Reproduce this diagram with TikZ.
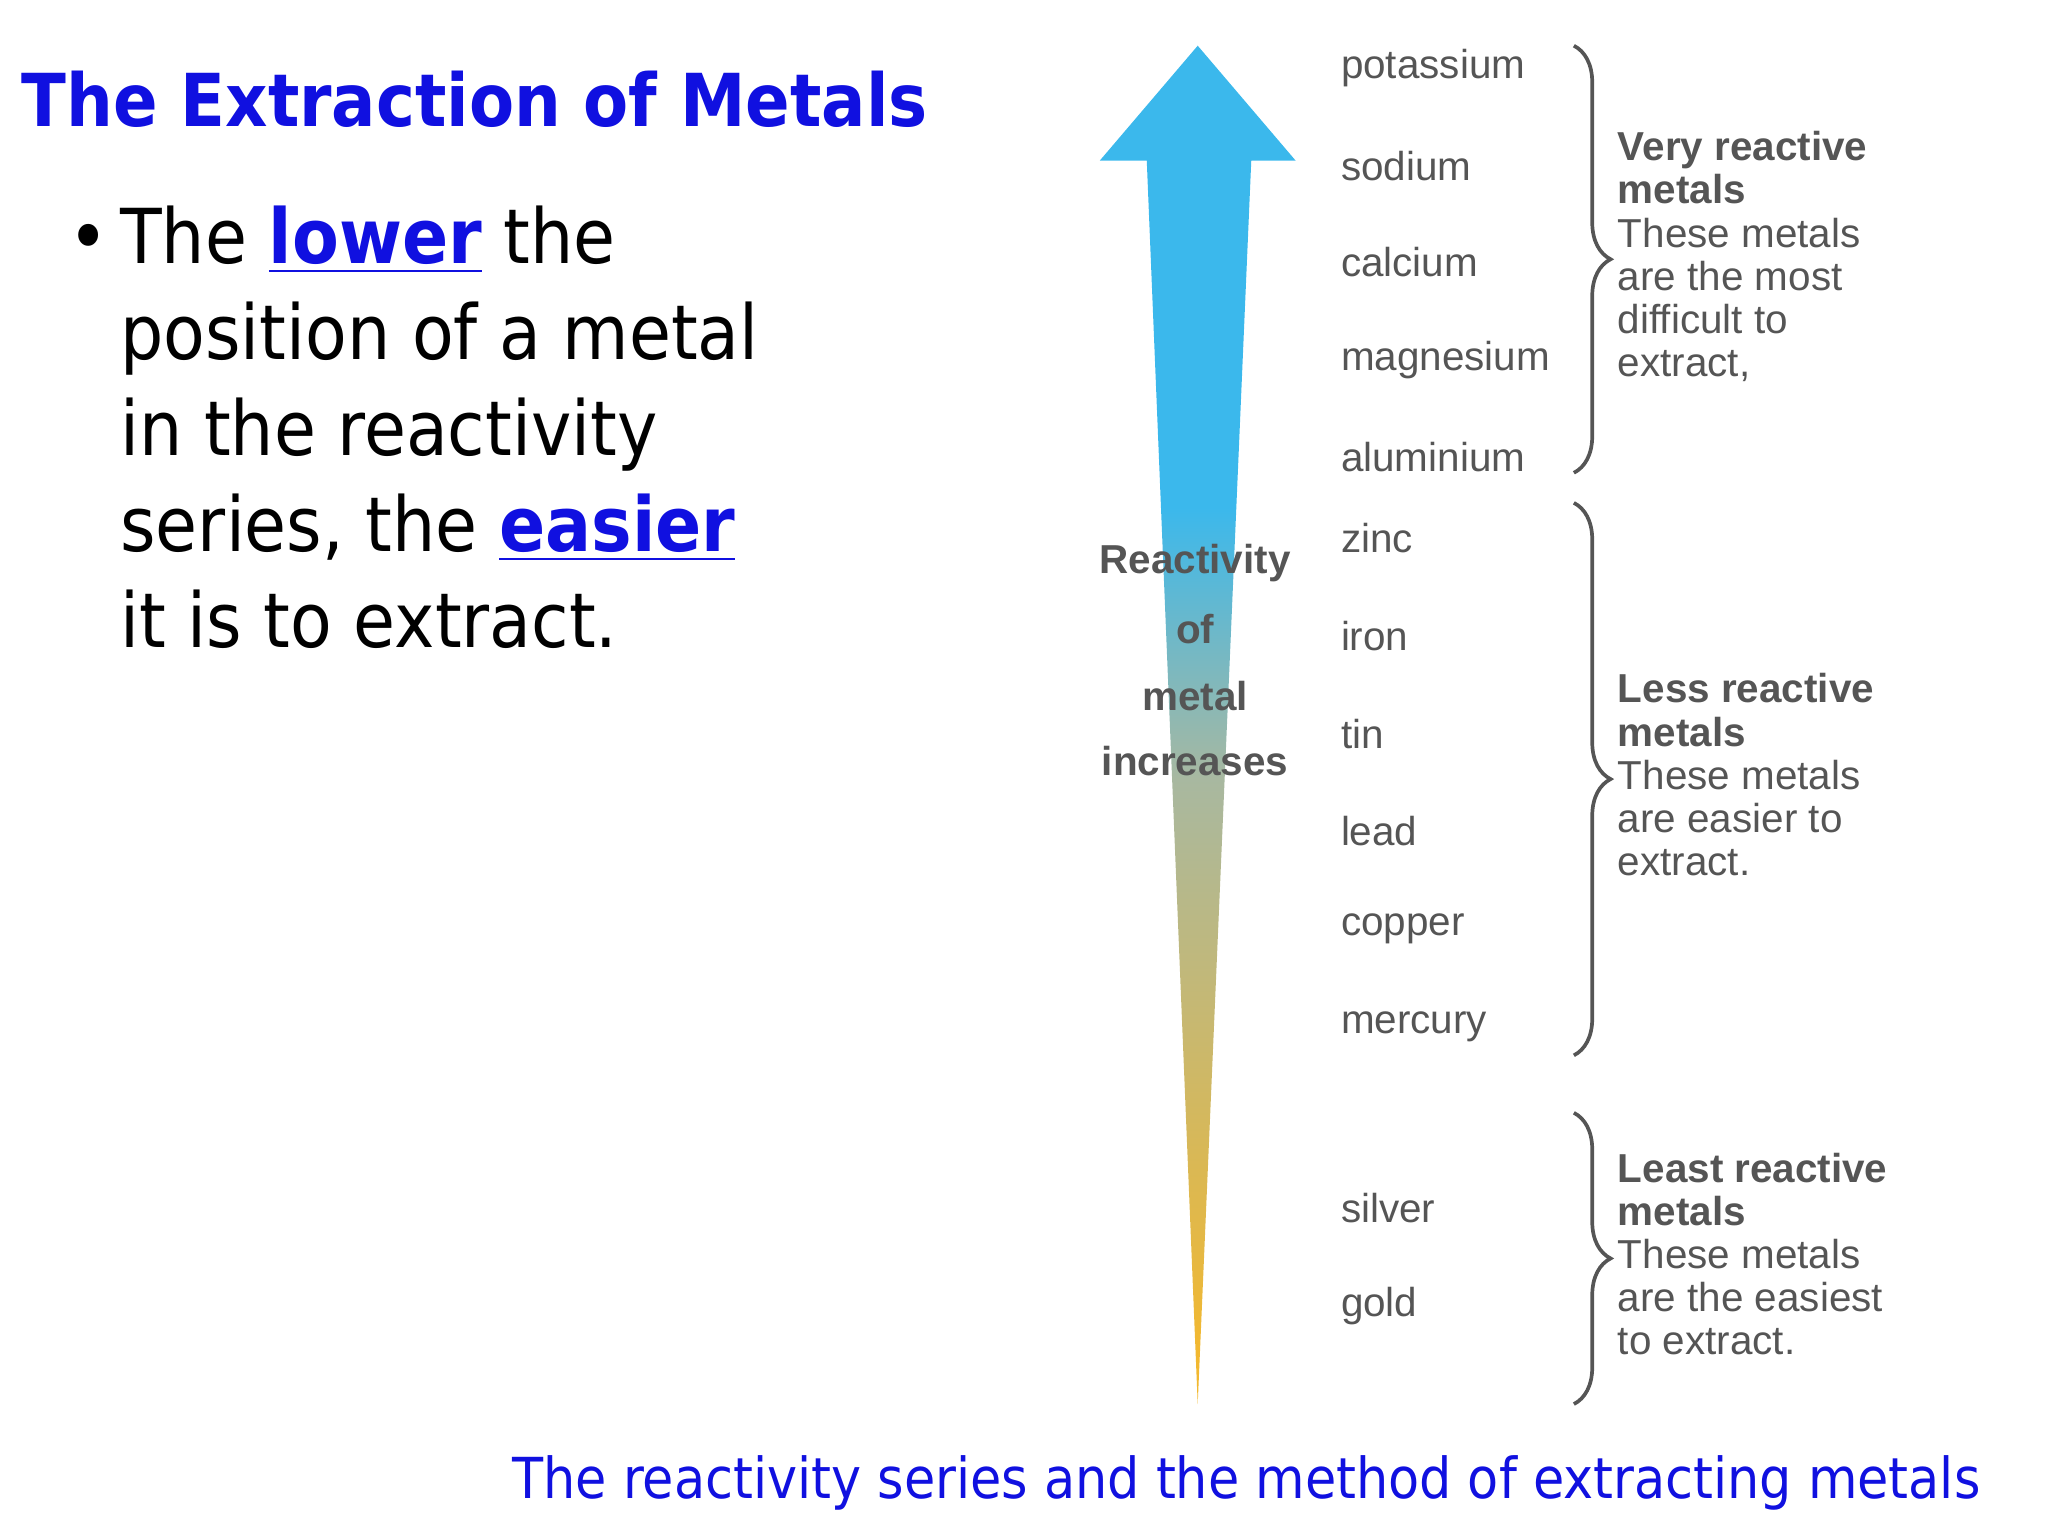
\documentclass[tikz,border=0pt]{standalone}
\usepackage{fontspec}
\setmainfont{DejaVu Sans Condensed}
\newfontfamily\metfont{Liberation Sans}
\usetikzlibrary{decorations.pathreplacing}
\definecolor{ttlblue}{HTML}{1010E0}
\definecolor{arrblue}{HTML}{3BB8EC}
\definecolor{arrgrn}{HTML}{A8B8A0}
\definecolor{arryel}{HTML}{F2B830}
\definecolor{mgray}{HTML}{555555}
\pgfdeclareverticalshading{arrshade}{100bp}{color(0bp)=(arryel); color(27bp)=(arryel); color(48bp)=(arrgrn); color(58bp)=(arrblue); color(100bp)=(arrblue)}
\tikzset{
 metal/.style={anchor=west,font=\metfont\fontsize{8.8pt}{10pt}\selectfont,text=mgray,inner sep=0pt},
 grp/.style={anchor=north west,align=left,font=\metfont\fontsize{8.8pt}{9.4pt}\selectfont,text=mgray,inner sep=0pt},
 brc/.style={decorate,decoration={brace,amplitude=8pt},draw=mgray,line width=0.8pt},
 react/.style={font=\metfont\bfseries\fontsize{8.8pt}{10pt}\selectfont,text=mgray,inner sep=0pt}
}
\begin{document}
\begin{tikzpicture}[x=0.01cm,y=-0.01cm]
\useasboundingbox (0,0) rectangle (1568,1176);
\node[anchor=west,inner sep=0pt,font=\bfseries\fontsize{15.9pt}{20pt}\selectfont,text=ttlblue] (title) at (16,76) {The Extraction of Metals};
\node[anchor=north west,inner sep=0pt,align=left,font=\fontsize{16.5pt}{20.9pt}\selectfont] (bul) at (52,157)
 {\textbullet\kern0.15em The \textcolor{ttlblue}{\bfseries\underline{lower}} the\\
 \phantom{\textbullet\kern0.15em}position of a metal\\
 \phantom{\textbullet\kern0.15em}in the reactivity\\
 \phantom{\textbullet\kern0.15em}series, the \textcolor{ttlblue}{\bfseries\underline{easier}}\\
 \phantom{\textbullet\kern0.15em}it is to extract.};
\path[shading=arrshade] (917,35) -- (992,123) -- (958,123) -- (917,1075) -- (878,123) -- (842,123) -- cycle;
\node[react] (r1) at (915,431) {Reactivity};
\node[react] (r2) at (915,482) {of};
\node[react] (r3) at (915,533) {metal};
\node[react] (r4) at (915,583) {increases};
\foreach \n/\y in {potassium/52,sodium/127,calcium/201,magnesium/276,aluminium/350,zinc/412,iron/487,tin/562,lead/636,copper/711,mercury/786,silver/925,gold/1000}
 \node[metal] (m-\n) at (1026,\y) {\n};
\coordinate (b1t) at (1205,35); \coordinate (b1b) at (1205,362);
\coordinate (b2t) at (1205,385); \coordinate (b2b) at (1205,808);
\coordinate (b3t) at (1205,852); \coordinate (b3b) at (1205,1075);
\draw[brc] (b1t) -- (b1b);
\draw[brc] (b2t) -- (b2b);
\draw[brc] (b3t) -- (b3b);
\node[grp] (g1) at (1238,100) {\textbf{Very reactive}\\\textbf{metals}\\These metals\\are the most\\difficult to\\extract,};
\node[grp] (g2) at (1238,515) {\textbf{Less reactive}\\\textbf{metals}\\These metals\\are easier to\\extract.};
\node[grp] (g3) at (1238,882) {\textbf{Least reactive}\\\textbf{metals}\\These metals\\are the easiest\\to extract.};
\node[anchor=east,inner sep=0pt,font=\fontsize{12.3pt}{14pt}\selectfont,text=ttlblue] (cap) at (1517,1135) {The reactivity series and the method of extracting metals};
\end{tikzpicture}
\end{document}
